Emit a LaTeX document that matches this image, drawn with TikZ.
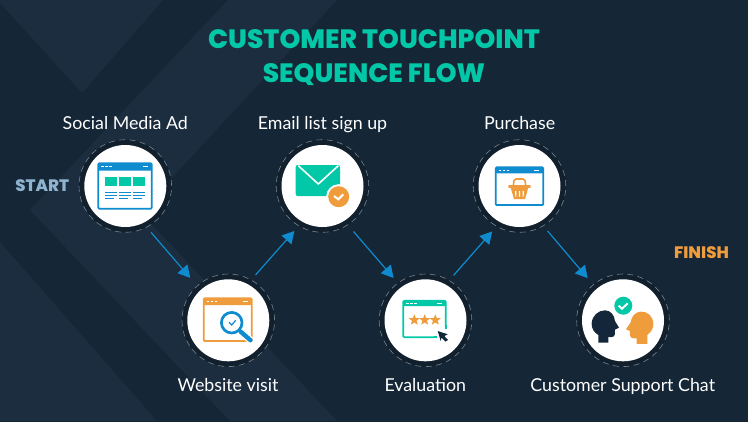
\documentclass[tikz,border=0pt]{standalone}
\usepackage{fontspec}
\usepackage{xcolor}
\usetikzlibrary{arrows.meta}
\usetikzlibrary{shapes.geometric}
\newfontfamily\titlefont{Poppins}[UprightFont=* ExtraBold]
\newfontfamily\labelfont{Lato}
\definecolor{bgbase}{HTML}{152637}
\definecolor{bglight}{HTML}{1B2D3E}
\definecolor{ringdark}{HTML}{12202D}
\definecolor{dashgrey}{HTML}{75858F}
\definecolor{tealc}{HTML}{03C8A8}
\definecolor{bluec}{HTML}{0F8BCF}
\definecolor{orangec}{HTML}{EF9C3C}
\definecolor{slatec}{HTML}{8FB3CE}
\definecolor{darkc}{HTML}{14263A}
\tikzset{
    ringdash/.style={circle,fill=ringdark,draw=dashgrey,line width=0.6pt,dash pattern=on 6pt off 4.4pt,minimum size=92.6pt,inner sep=0pt},
    touch/.style={circle,fill=white,minimum size=82pt,inner sep=0pt,outer sep=12pt},
    flow/.style={bluec,line width=1.2pt,-{Triangle[length=12pt,width=13pt]}},
    steplabel/.style={white,font=\labelfont\fontsize{17.8}{20}\selectfont,anchor=base},
    startstop/.style={font=\titlefont\fontsize{16.6}{18}\selectfont,anchor=base},
    staricon/.style={star,star points=5,star point ratio=2.3,fill=orangec,minimum size=11.5pt,inner sep=0pt}
}
\newcommand{\browserwin}[6]{%
    \draw[#1,line width=1.7pt,rounded corners=1pt,fill=white] (#2,#3) rectangle (#4,#5);
    \fill[#1,rounded corners=1pt] (#2,#3) rectangle (#4,#3+#6);
    \draw[white,line width=1pt] (#2+3,#3+#6/2) -- ++(2.4,0) (#2+7,#3+#6/2) -- ++(2.4,0) (#2+11,#3+#6/2) -- ++(2.4,0);
    \draw[white,line width=1pt] (#4-9,#3+#6/2) -- ++(5,0);
}
\begin{document}
\begin{tikzpicture}[x=1pt,y=-1pt]
    \useasboundingbox (0,0) rectangle (748,421);
    \fill[bgbase] (-3,-3) rectangle (751,424);
    \fill[bglight] (0,3) -- (82,93) -- (163,0) -- (0,0) -- cycle;
    \fill[bglight] (228,0) -- (30,210) -- (230,421) -- (337,421) -- (140,212) -- (337,0) -- cycle;
    \fill[bglight] (0,242) -- (157,421) -- (0,421) -- cycle;

    \node[tealc,align=center,font=\titlefont\fontsize{26.5}{33.3}\selectfont] (title) at (374,57.5) {CUSTOMER TOUCHPOINT\\SEQUENCE FLOW};

    \node[ringdash] (adring) at (125.3,186) {};
    \node[ringdash] (webring) at (228.3,320.3) {};
    \node[ringdash] (mailring) at (322.5,186) {};
    \node[ringdash] (evalring) at (425.5,320.3) {};
    \node[ringdash] (buyring) at (519.5,186) {};
    \node[ringdash] (chatring) at (623,320.3) {};
    \node[touch] (ad) at (adring) {};
    \node[touch] (web) at (webring) {};
    \node[touch] (mail) at (mailring) {};
    \node[touch] (eval) at (evalring) {};
    \node[touch] (buy) at (buyring) {};
    \node[touch] (chat) at (chatring) {};

    \draw[flow,shorten >=4pt] (ad.-61.6) -- (web.132);
    \draw[flow] (web.59.5) -- (mail.-122.5);
    \draw[flow,shorten <=2pt] (mail.-56) -- (eval.127);
    \draw[flow] (eval.58) -- (buy.-121);
    \draw[flow,shorten >=2pt] (buy.-58) -- (chat.130);

    \node[steplabel] (adlabel) at (125.3,129.3) {Social Media Ad};
    \node[steplabel] (maillabel) at (322.5,129.3) {Email list sign up};
    \node[steplabel] (buylabel) at (519.6,129.3) {Purchase};
    \node[steplabel] (weblabel) at (228,391) {Website visit};
    \node[steplabel] (evallabel) at (425.3,391) {Evaluation};
    \node[steplabel] (chatlabel) at (622.7,391) {Customer Support Chat};
    \node[startstop,slatec] (start) at (42.3,191.7) {START};
    \node[startstop,orangec] (finish) at (701.5,258.7) {FINISH};

    \browserwin{bluec}{98.3}{163.3}{151.7}{208.7}{7.3}
    \fill[tealc] (105.3,177.3) rectangle (116.7,186);
    \fill[tealc] (119.3,177.3) rectangle (130.7,186);
    \fill[tealc] (133.3,177.3) rectangle (144.7,186);
    \draw[bluec,line width=1pt] (105.3,192) -- (116.7,192) (119.3,192) -- (130.7,192) (133.3,192) -- (144.7,192);
    \draw[bluec,line width=1pt] (105.3,195) -- (116.7,195) (119.3,195) -- (130.7,195) (133.3,195) -- (144.7,195);
    \draw[bluec,line width=1pt] (105.3,198.7) -- (113.5,198.7) (119.3,198.7) -- (127.5,198.7) (133.3,198.7) -- (141.5,198.7);

    \browserwin{orangec}{203.7}{298.3}{251.7}{341}{6.7}
    \draw[white,line width=7pt] (240.7,331.7) -- (251,340.7);
    \draw[bluec,line width=4.4pt,line cap=round] (240.7,331.7) -- (250.5,340.2);
    \draw[bluec,line width=2.7pt,fill=white] (231.7,322.7) circle (10.3);
    \draw[bluec,line width=1.2pt] (229,322.3) -- (231.7,325) -- (235.7,320.3);

    \fill[tealc,rounded corners=2pt] (295.7,165) rectangle (340,196);
    \draw[white,line width=1.6pt,line join=round] (298.3,165.7) -- (318.3,184) -- (338.3,165.7);
    \fill[white] (338.7,196.7) circle (12.5);
    \fill[orangec] (338.7,196.7) circle (10.5);
    \draw[white,line width=2pt] (334,196) -- (338.3,199.3) -- (343.3,194.3);

    \browserwin{tealc}{403.3}{300.7}{445.7}{337.3}{5.3}
    \node[staricon] (star1) at (414.3,320) {};
    \node[staricon] (star2) at (424.7,320) {};
    \node[staricon] (star3) at (435.3,320) {};
    \fill[white] (434,327) rectangle (449,341);
    \draw[tealc,line width=1.7pt] (434,337.3) -- (436.5,337.3) (445.7,325) -- (445.7,329);
    \fill[darkc] (437.7,331) -- (447.7,334.3) -- (444.3,336) -- (448,340) -- (445.5,341.5) -- (441.5,337.7) -- (440.7,341) -- cycle;

    \browserwin{bluec}{495.7}{167.3}{543.3}{205}{6}
    \draw[orangec,line width=1.6pt] (513.3,186) -- (514,180.5) -- (516,179) -- (523,179) -- (525,180.5) -- (525.7,186);
    \fill[orangec,rounded corners=0.7pt] (508.3,185) rectangle (530.7,187.9);
    \fill[orangec] (510.7,187.7) -- (528.3,187.7) -- (525,199) -- (514,199) -- cycle;
    \draw[white,line width=1.2pt] (515.7,191) -- (515.9,196.7) (519.5,191) -- (519.5,196.7) (523.3,191) -- (523.1,196.7);

    \fill[tealc] (623.3,305.7) circle (9);
    \draw[white,line width=2pt] (618.7,305.7) -- (622,308.7) -- (627.7,303.3);
    \begin{scope}[shift={(570,275)},x=0.3333pt,y=-0.3333pt]
        \fill[darkc] (85,203) -- (85,180) .. controls (72,172) and (64,160) .. (65,145) .. controls (66,122) and (85,106) .. (105,106) .. controls (122,106) and (133,120) .. (135,138) -- (147,158) -- (135,164) -- (135,178) .. controls (135,184) and (130,187) .. (115,186) -- (115,203) -- cycle;
        \fill[orangec] (232,207) -- (232,180) .. controls (245,170) and (251,158) .. (250,145) .. controls (248,122) and (232,109) .. (212,110) .. controls (195,111) and (184,125) .. (182,142) -- (168,163) -- (180,168) -- (180,182) .. controls (180,188) and (186,191) .. (200,190) -- (200,207) -- cycle;
    \end{scope}
\end{tikzpicture}
\end{document}
